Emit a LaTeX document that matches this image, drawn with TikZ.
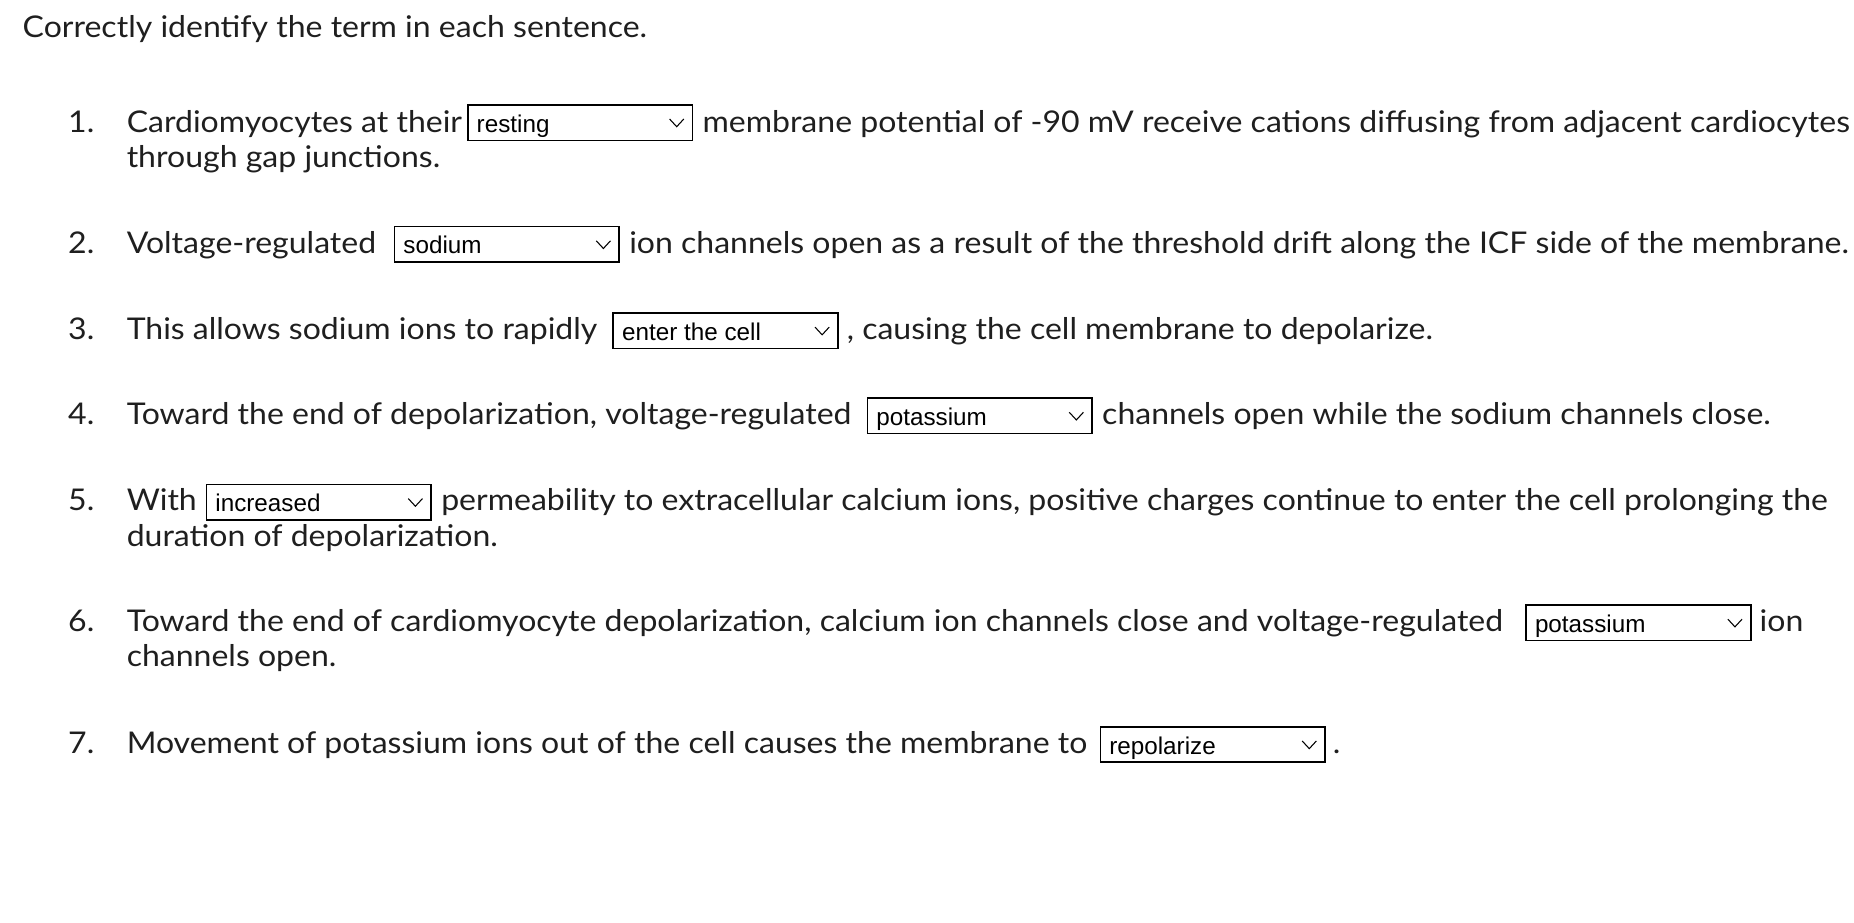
\documentclass[tikz,border=0pt]{standalone}
\usepackage{fontspec}
\setmainfont{Lato}[FakeStretch=1.07]
\newfontfamily\boxfont{Liberation Sans}
\begin{document}
\begin{tikzpicture}[x=1pt,y=-1pt,
  txt/.style={anchor=base west,inner sep=0pt,font=\fontsize{25.3}{29}\selectfont,text=black!88},
  num/.style={anchor=base east,inner sep=0pt,font=\fontsize{25.3}{29}\selectfont,text=black!88},
  sel/.style={draw=black,line width=1.3pt,minimum width=190pt,minimum height=30pt,anchor=north west,inner sep=0pt},
  seltxt/.style={anchor=base west,inner sep=0pt,font=\boxfont\fontsize{20.5}{24}\selectfont},
  chev/.style={line width=0.9pt}]
\useasboundingbox (0,0) rectangle (1568,780);
\fill[white] (0,0) rectangle (1568,780);
\newcommand{\dropbox}[4]{% name, x, y, text
  \node[sel] (#1) at (#2,#3) {};
  \node[seltxt] (#1t) at ([xshift=8pt,yshift=7.5pt]#1.south west) {#4};
  \coordinate (#1c) at ([xshift=-14pt]#1.east);
  \draw[chev] ([xshift=-6pt,yshift=3pt]#1c) -- ([yshift=-3.5pt]#1c) -- ([xshift=6pt,yshift=3pt]#1c);}
\node[txt] (title) at (19,32) {Correctly identify the term in each sentence.};
% 1
\node[num] (n1) at (80,112) {1.};
\node[txt] (t1a) at (107,112) {Cardiomyocytes at their};
\dropbox{b1}{395}{88}{resting}
\node[txt] (t1b) at (594,112) {membrane potential of -90 mV receive cations diffusing from adjacent cardiocytes};
\node[txt] (t1c) at (107,142) {through gap junctions.};
% 2
\node[num] (n2) at (80,214) {2.};
\node[txt] (t2a) at (107,214) {Voltage-regulated};
\dropbox{b2}{333}{191}{sodium}
\node[txt] (t2b) at (532,214) {ion channels open as a result of the threshold drift along the ICF side of the membrane.};
% 3
\node[num] (n3) at (80,287) {3.};
\node[txt] (t3a) at (107,287) {This allows sodium ions to rapidly};
\dropbox{b3}{518}{264}{enter the cell}
\node[txt] (t3b) at (716,287) {, causing the cell membrane to depolarize.};
% 4
\node[num] (n4) at (80,359) {4.};
\node[txt] (t4a) at (107,359) {Toward the end of depolarization, voltage-regulated};
\dropbox{b4}{733}{336}{potassium}
\node[txt] (t4b) at (932,359) {channels open while the sodium channels close.};
% 5
\node[num] (n5) at (80,432) {5.};
\node[txt] (t5a) at (107,432) {With};
\dropbox{b5}{174}{409}{increased}
\node[txt] (t5b) at (373,432) {permeability to extracellular calcium ions, positive charges continue to enter the cell prolonging the};
\node[txt] (t5c) at (107,462) {duration of depolarization.};
% 6
\node[num] (n6) at (80,534) {6.};
\node[txt] (t6a) at (107,534) {Toward the end of cardiomyocyte depolarization, calcium ion channels close and voltage-regulated};
\dropbox{b6}{1290}{511}{potassium}
\node[txt] (t6b) at (1488,534) {ion};
\node[txt] (t6c) at (107,564) {channels open.};
% 7
\node[num] (n7) at (80,637) {7.};
\node[txt] (t7a) at (107,637) {Movement of potassium ions out of the cell causes the membrane to};
\dropbox{b7}{930}{614}{repolarize}
\node[txt] (t7b) at (1127,637) {.};
\end{tikzpicture}
\end{document}
